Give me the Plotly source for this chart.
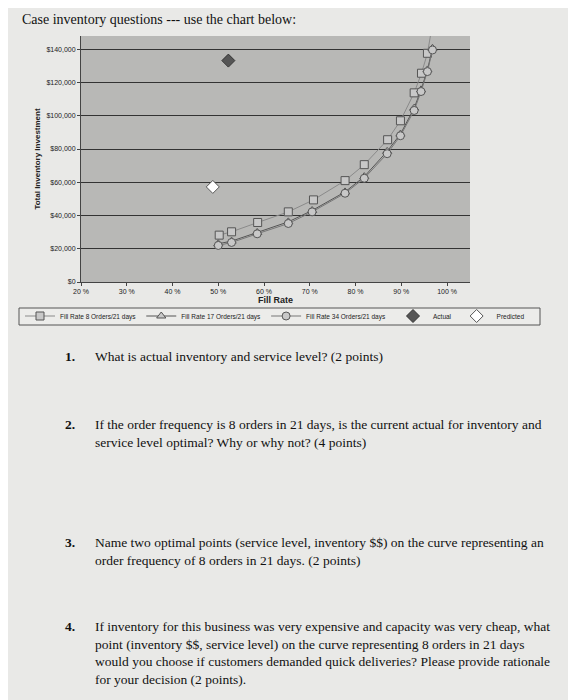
import plotly.graph_objects as go

x8 = [50.2, 52.9, 58.6, 65.3, 70.8, 77.7, 81.9, 87.0, 89.8, 92.8, 94.4, 95.7, 96.6]
y8 = [28200, 30200, 35800, 42200, 49400, 61000, 70600, 85600, 97000, 113800, 125600, 137600, 152000]
x17 = [50.0, 52.9, 58.5, 65.3, 70.5, 77.7, 81.9, 86.9, 89.8, 92.8, 94.3, 95.7, 96.8]
y17 = [23000, 24600, 29800, 36200, 43000, 54200, 63400, 78600, 89000, 104600, 115600, 127600, 140600]
x34 = [50.0, 52.9, 58.5, 65.3, 70.5, 77.7, 81.9, 86.9, 89.8, 92.8, 94.3, 95.7, 96.8]
y34 = [22000, 23800, 29000, 35200, 42200, 53400, 62400, 77200, 88000, 103200, 114600, 126600, 139600]
actual_x, actual_y = [52.2], [133200]
pred_x, pred_y = [48.8], [57200]
xticks = [20, 30, 40, 50, 60, 70, 80, 90, 100]
yticks = [0, 20000, 40000, 60000, 80000, 100000, 120000, 140000]

W, H = 576, 700
ML, PL, R, T, B = 8, 73, 462, 28, 274
def px(x): return (x - ML) / (R - ML)
def py(y): return (B - y) / (B - T)

fig = go.Figure()
mk = dict(size=8, color='#c8c8c8', line=dict(color='#555', width=1))
fig.add_trace(go.Scatter(x=x8, y=y8, name='Fill Rate 8 Orders/21 days', mode='lines+markers',
    line=dict(color='#8a8a8a', width=1), marker=dict(symbol='square', **mk)))
fig.add_trace(go.Scatter(x=x17, y=y17, name='Fill Rate 17 Orders/21 days', mode='lines+markers',
    line=dict(color='#555', width=1), marker=dict(symbol='triangle-up', **mk)))
fig.add_trace(go.Scatter(x=x34, y=y34, name='Fill Rate 34 Orders/21 days', mode='lines+markers',
    line=dict(color='#777', width=1), marker=dict(symbol='circle', **mk)))
fig.add_trace(go.Scatter(x=actual_x, y=actual_y, name='Actual', mode='markers', legend='legend2',
    marker=dict(symbol='diamond', size=10, color='#555', line=dict(color='#333', width=1))))
fig.add_trace(go.Scatter(x=pred_x, y=pred_y, name='Predicted', mode='markers', legend='legend2',
    marker=dict(symbol='diamond', size=10, color='white', line=dict(color='#555', width=1))))

sans = 'Liberation Sans'
serif = 'Liberation Serif'
leg = dict(orientation='h', xanchor='left', yanchor='middle', bgcolor='rgba(0,0,0,0)',
           borderwidth=0, font=dict(size=6.5), itemwidth=30)
fig.update_layout(
    width=W, height=H, paper_bgcolor='#e9e9e7', plot_bgcolor='rgba(0,0,0,0)',
    margin=dict(l=ML, r=W - R, t=T, b=H - B),
    font=dict(family=sans, size=7, color='#222'),
    xaxis=dict(domain=[px(PL), 1], range=[20, 105], tickvals=xticks, ticktext=[f'{v} %' for v in xticks],
               showgrid=False, zeroline=False, showline=True, linecolor='#444', ticks='outside',
               ticklen=3, automargin=False,
               title=dict(text='<b>Fill Rate</b>', font=dict(size=9), standoff=0)),
    yaxis=dict(range=[0, 148000], tickvals=yticks, automargin=False,
               ticktext=['$0'] + [f'${v:,}' for v in yticks[1:]],
               showgrid=True, gridcolor='#333', gridwidth=1, zeroline=False, showline=True,
               linecolor='#444', ticks='outside', ticklen=3,
               title=dict(text='<b>Total Inventory Investment</b>', font=dict(size=8), standoff=4)),
    legend=dict(x=px(12), y=py(308), **leg),
    legend2=dict(x=px(385), y=py(308), **leg),
    showlegend=True,
)
fig.add_shape(type='rect', xref='x domain', yref='y domain', x0=0, x1=1, y0=0, y1=1,
              fillcolor='#b8b8b6', line=dict(width=0), layer='below')
fig.add_shape(type='rect', xref='paper', yref='paper', x0=px(11), x1=px(532), y0=py(300), y1=py(317),
              fillcolor='#ececea', line=dict(color='#555', width=1), layer='below')

def note(x, y, text, size=13.5, bold=False):
    fig.add_annotation(x=px(x), y=py(y), xref='paper', yref='paper', xanchor='left', yanchor='top',
                       text=(f'<b>{text}</b>' if bold else text), showarrow=False, align='left',
                       font=dict(family=serif, size=size, color='#111'))

note(12, 2, 'Case inventory questions --- use the chart below:', 14)
note(55, 339, '1.', bold=True)
note(85, 339, 'What is actual inventory and service level? (2 points)')
note(55, 407, '2.', bold=True)
note(85, 407, 'If the order frequency is 8 orders in 21 days, is the current actual for inventory and<br>service level optimal? Why or why not? (4 points)')
note(55, 525, '3.', bold=True)
note(85, 525, 'Name two optimal points (service level, inventory $$) on the curve representing an<br>order frequency of 8 orders in 21 days. (2 points)')
note(55, 609, '4.', bold=True)
note(85, 609, 'If inventory for this business was very expensive and capacity was very cheap, what<br>point (inventory $$, service level) on the curve representing 8 orders in 21 days<br>would you choose if customers demanded quick deliveries? Please provide rationale<br>for your decision (2 points).')

fig.write_html('out.html')
